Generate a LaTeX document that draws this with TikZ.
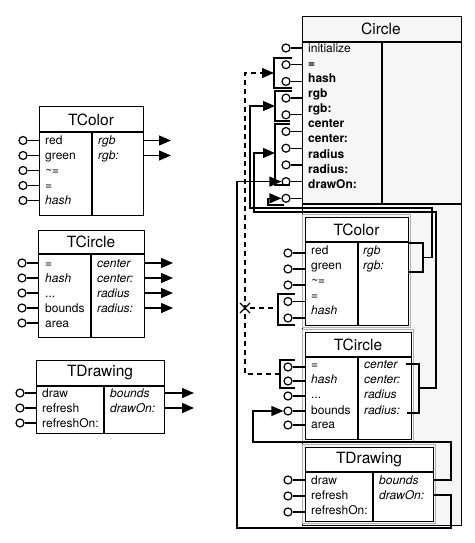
\documentclass[tikz,border=0pt]{standalone}
\usepackage{fontspec}
\setmainfont{TeX Gyre Heros}
\usetikzlibrary{arrows.meta,calc,shapes.misc}
\begin{document}
\begin{tikzpicture}[x=1pt,y=-1pt,
  box/.style={draw, line width=1.3pt, inner sep=0pt, anchor=north west, fill=white},
  port/.style={circle, draw, line width=1.2pt, minimum size=8pt, inner sep=0pt, fill=white},
  txt/.style={font=\fontsize{12}{12}\selectfont, inner sep=0pt, text height=8.6pt, text depth=0pt, anchor=west},
  itx/.style={txt, font=\fontsize{12}{12}\selectfont\itshape},
  btx/.style={txt, font=\fontsize{12}{12}\selectfont\bfseries},
  ttl/.style={font=\fontsize{15.5}{15.5}\selectfont, inner sep=0pt},
  wire/.style={line width=1.3pt},
  arr/.style={wire, -{Triangle[length=12pt,width=10pt]}},
  dwire/.style={wire, dash pattern=on 5pt off 4pt},
  frame/.style={draw=gray!60, line width=1.4pt},
]
\useasboundingbox (0,0) rectangle (474,543);

% ---------------- left TColor ----------------
\node[box, minimum width=104pt, minimum height=109pt] (LC) at (39,106) {};
\draw[wire] (39,132) -- (143,132);
\draw[wire] (92,132) -- (92,215);
\node[ttl] (LCt) at (91,119.5) {TColor};
\foreach \n/\y/\t/\s in {1/140.5/red/txt, 2/155.5/green/txt, 3/170.5/{\textasciitilde=}/itx, 4/185.5/=/itx, 5/200.5/hash/itx}{
  \node[\s] (LCr\n) at (45,\y) {\t};
  \node[port] (LCp\n) at (23,\y) {};
  \draw[wire] (LCp\n) -- (LCp\n -| LC.west);
}
\foreach \n/\y/\t in {1/140.5/rgb, 2/155.5/rgb:}{
  \node[itx] (LCq\n) at (98,\y) {\t};
  \coordinate (LCa\n) at (171,\y);
  \draw[arr] (LCq\n -| LC.east) -- (LCa\n);
}

% ---------------- left TCircle ----------------
\node[box, minimum width=106pt, minimum height=107pt] (LK) at (38,230) {};
\draw[wire] (38,254) -- (144,254);
\draw[wire] (91,254) -- (91,337);
\node[ttl] (LKt) at (91,242) {TCircle};
\foreach \n/\y/\t/\s in {1/263/=/itx, 2/278/hash/itx, 3/293/{.{}.{}.}/txt, 4/308/bounds/txt, 5/323/area/txt}{
  \node[\s] (LKr\n) at (45,\y) {\t};
  \node[port] (LKp\n) at (22,\y) {};
  \draw[wire] (LKp\n) -- (LKp\n -| LK.west);
}
\foreach \n/\y/\t in {1/263/center, 2/278/center:, 3/293/radius, 4/308/radius:}{
  \node[itx] (LKq\n) at (97,\y) {\t};
  \coordinate (LKa\n) at (173,\y);
  \draw[arr] (LKq\n -| LK.east) -- (LKa\n);
}

% ---------------- left TDrawing ----------------
\node[box, minimum width=128pt, minimum height=73pt] (LD) at (36,360) {};
\draw[wire] (36,386) -- (164,386);
\draw[wire] (104,386) -- (104,433);
\node[ttl] (LDt) at (100,373) {TDrawing};
\foreach \n/\y/\t in {1/393/draw, 2/408/refresh, 3/423/refreshOn:}{
  \node[txt] (LDr\n) at (42,\y) {\t};
  \node[port] (LDp\n) at (20,\y) {};
  \draw[wire] (LDp\n) -- (LDp\n -| LD.west);
}
\foreach \n/\y/\t in {1/393/bounds, 2/408/drawOn:}{
  \node[itx] (LDq\n) at (110,\y) {\t};
  \coordinate (LDa\n) at (194,\y);
  \draw[arr] (LDq\n -| LD.east) -- (LDa\n);
}

% ---------------- Circle ----------------
\node[box, fill=gray!7, minimum width=159pt, minimum height=509pt] (C) at (302,16) {};
\draw[wire] (302,42) -- (461,42);
\draw[wire] (382,42) -- (382,204);
\draw[wire] (302,204) -- (461,204);
\node[ttl] (Ct) at (381,29) {Circle};
\node[txt] (Cr1) at (308,48) {initialize};
\foreach \n/\y/\t in {2/63.1/=, 3/78.2/hash, 4/93.3/rgb, 5/108.4/rgb:, 6/123.5/center, 7/138.6/center:, 8/153.7/radius, 9/168.8/radius:, 10/183.9/drawOn:}{
  \node[btx] (Cr\n) at (308,\y) {\t};
}
\foreach \n/\y in {1/48, 2/64.7, 3/81.4, 4/98.1, 5/114.8, 6/131.5, 7/148.2, 8/164.9, 9/181.6, 10/198.3}{
  \node[port] (Cp\n) at (286,\y) {};
  \draw[wire] (Cp\n) -- (Cp\n -| C.west);
}
% brackets in Circle
\draw[wire] (292,58) -- (274,58) -- (274,88) -- (292,88);
\draw[wire] (292,91) -- (275,91) -- (275,121) -- (290,121);
\draw[wire] (290,124) -- (275,124) -- (275,185) -- (290,185);
\coordinate (Cb1) at (274,73);
\coordinate (Cb2) at (275,106);
\coordinate (Cb3) at (275,153);

% ---------------- inner TColor ----------------
\draw[frame] (302.5,214.5) rectangle (410.5,327.5);
\node[box, minimum width=103pt, minimum height=108pt] (IC) at (305,217) {};
\draw[wire] (305,242) -- (408,242);
\draw[wire] (358,242) -- (358,325);
\node[ttl] (ICt) at (356.5,229.5) {TColor};
\foreach \n/\y/\t/\s in {1/250/red/txt, 2/265/green/txt, 3/280/{\textasciitilde=}/itx, 4/295/=/itx, 5/310/hash/itx}{
  \node[\s] (ICr\n) at (311,\y) {\t};
}
\foreach \n/\y in {1/253, 2/269, 3/285, 4/301.5, 5/318}{
  \node[port] (ICp\n) at (288,\y) {};
  \draw[wire] (ICp\n) -- (ICp\n -| IC.west);
}
\node[itx] (ICq1) at (363,250) {rgb};
\node[itx] (ICq2) at (363,265) {rgb:};
\draw[wire] (295,294) -- (278,294) -- (278,325) -- (295,325);
\draw[wire] (408,243) -- (423,243) -- (423,272) -- (408,272);
\coordinate (ICb1) at (278,308);
\coordinate (ICb2) at (423,257.5);

% ---------------- inner TCircle ----------------
\draw[frame] (302.5,329.5) rectangle (413.5,441.5);
\node[box, minimum width=106pt, minimum height=107pt] (IK) at (305,332) {};
\draw[wire] (305,357) -- (411,357);
\draw[wire] (358,357) -- (358,439);
\node[ttl] (IKt) at (358,345) {TCircle};
\foreach \n/\y/\t/\s in {1/364/=/itx, 2/379/hash/itx, 3/394.5/{.{}.{}.}/txt, 4/410/bounds/txt, 5/424.5/area/txt}{
  \node[\s] (IKr\n) at (311,\y) {\t};
}
\foreach \n/\y in {1/367, 2/381, 3/396, 4/411, 5/425}{
  \node[port] (IKp\n) at (288,\y) {};
  \draw[wire] (IKp\n) -- (IKp\n -| IK.west);
}
\foreach \n/\y/\t in {1/364/center, 2/379/center:, 3/394.5/radius, 4/410/radius:}{
  \node[itx] (IKq\n) at (364,\y) {\t};
}
\draw[wire] (295,360) -- (280,360) -- (280,388) -- (295,388);
\draw[wire] (406,364) -- (419,364) -- (419,413) -- (407,413);
\coordinate (IKb1) at (280,374);
\coordinate (IKb2) at (419,388);

% ---------------- inner TDrawing ----------------
\draw[frame] (302.5,444.5) rectangle (435.5,523.5);
\node[box, minimum width=128pt, minimum height=74pt] (ID) at (305,447) {};
\draw[wire] (305,472) -- (433,472);
\draw[wire] (373,472) -- (373,521);
\node[ttl] (IDt) at (369,459.5) {TDrawing};
\foreach \n/\y/\t in {1/480/draw, 2/495/refresh, 3/510/refreshOn:}{
  \node[txt] (IDr\n) at (311,\y) {\t};
}
\foreach \n/\y in {1/480, 2/496, 3/512}{
  \node[port] (IDp\n) at (288,\y) {};
  \draw[wire] (IDp\n) -- (IDp\n -| ID.west);
}
\node[itx] (IDq1) at (379,480) {bounds};
\node[itx] (IDq2) at (379,495) {drawOn:};

% ---------------- connectors ----------------
% TColor rgb -> Circle rgb
\draw[arr] (ICb2) -- (432,257.5) -- (432,208) -- (250,208) -- (250,106) -- (Cb2);
% TCircle center.. -> Circle center..
\draw[arr] (IKb2) -- (436,388) -- (436,212) -- (254,212) -- (254,153) -- (Cb3);
% TDrawing bounds -> TCircle bounds
\draw[arr] (IDq1 -| ID.east) -- (451,480) -- (451,442) -- (253,442) -- (253,411) -- (IKp4);
% TDrawing drawOn: -> Circle drawOn:
\draw[arr] (IDq2 -| ID.east) -- (451,495) -- (451,528) -- (237,528) -- (237,181.6) -- (Cp9);
% small hook
\draw[arr] (284,205) -- (268,205) -- (268,198.3) -- (Cp10);
% dashed override / exclusion
\node[draw, cross out, line width=1.1pt, minimum size=9pt, inner sep=0pt] (X) at (245,308) {};
\draw[dwire, -{Triangle[length=12pt,width=10pt]}] (IKb1) -- (245,374) -- (245,73) -- (Cb1);
\draw[dwire] (X) -- (ICb1);
\end{tikzpicture}
\end{document}
